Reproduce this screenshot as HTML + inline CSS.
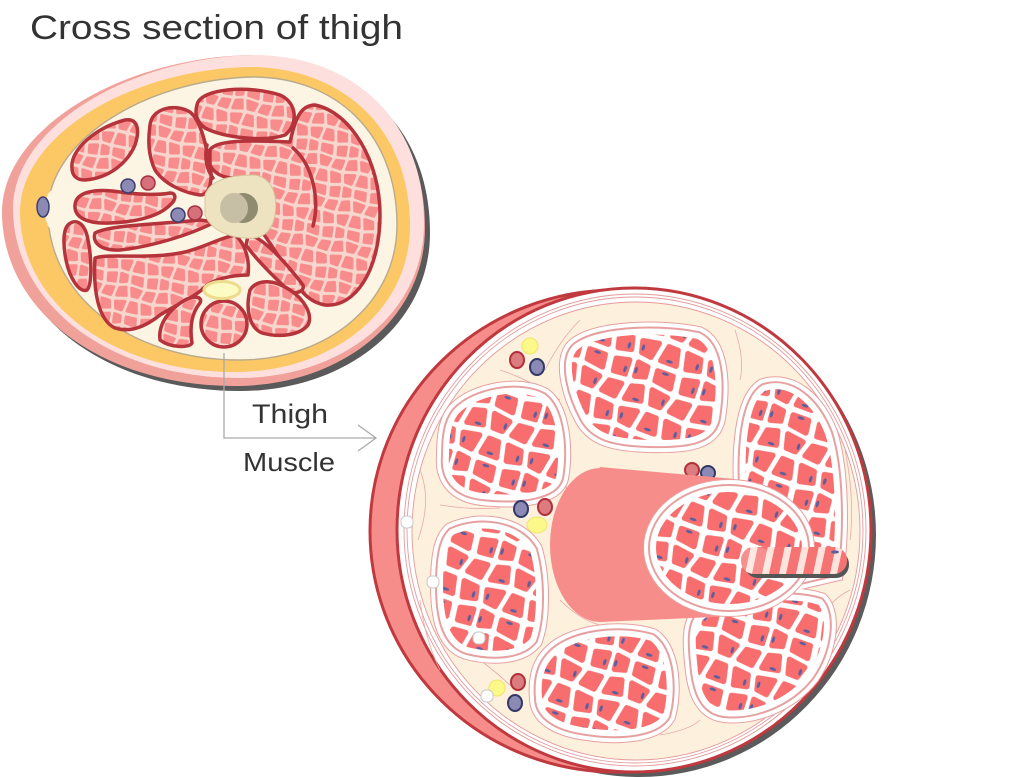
<!DOCTYPE html>
<html><head><meta charset="utf-8"><style>
html,body{margin:0;padding:0;background:#fff;}
svg{display:block;}
</style></head><body>
<svg width="1024" height="777" viewBox="0 0 1024 777" xmlns="http://www.w3.org/2000/svg">
<defs>
<g id="cells" stroke-linejoin="round">
<polygon points="2,-1 19,2 20,19 3,23" transform="translate(11 10.75) scale(.56) translate(-11 -10.75)"/>
<polygon points="19,2 46,3 48,24 20,19" transform="translate(33.25 12) scale(.56) translate(-33.25 -12)"/>
<polygon points="46,3 68,-1 69,23 48,24" transform="translate(57.75 12.25) scale(.56) translate(-57.75 -12.25)"/>
<polygon points="3,23 20,19 25,42 -2,46" transform="translate(11.5 32.5) scale(.56) translate(-11.5 -32.5)"/>
<polygon points="20,19 48,24 41,43 25,42" transform="translate(33.5 32) scale(.56) translate(-33.5 -32)"/>
<polygon points="48,24 69,23 64,46 41,43" transform="translate(55.5 34) scale(.56) translate(-55.5 -34)"/>
<polygon points="-2,46 25,42 19,68 2,65" transform="translate(11 55.25) scale(.56) translate(-11 -55.25)"/>
<polygon points="25,42 41,43 46,69 19,68" transform="translate(32.75 55.5) scale(.56) translate(-32.75 -55.5)"/>
<polygon points="41,43 64,46 68,65 46,69" transform="translate(54.75 55.75) scale(.56) translate(-54.75 -55.75)"/>
</g>
<pattern id="mL" width="66" height="66" patternUnits="userSpaceOnUse" patternTransform="rotate(10) scale(.62)">
<rect x="-2" y="-2" width="70" height="70" fill="#f7d7cd"/>
<use href="#cells" fill="#f88b8b" stroke="#f88b8b" stroke-width="9"/>
</pattern>
<pattern id="mR" width="66" height="66" patternUnits="userSpaceOnUse" patternTransform="rotate(18) scale(1.08)">
<rect x="-2" y="-2" width="70" height="70" fill="#fff"/>
<use href="#cells" fill="#f86e6e" stroke="#f86e6e" stroke-width="9"/>
<g fill="#5b5f9e">
<ellipse cx="6" cy="12" rx="1.4" ry="3.2"/>
<ellipse cx="33" cy="7" rx="3.2" ry="1.4"/>
<ellipse cx="62" cy="14" rx="1.4" ry="3.2"/>
<ellipse cx="14" cy="38" rx="3.2" ry="1.4"/>
<ellipse cx="39" cy="33" rx="1.4" ry="3.2"/>
<ellipse cx="6" cy="56" rx="1.4" ry="3.2"/>
<ellipse cx="33" cy="61" rx="3.2" ry="1.4"/>
<ellipse cx="59" cy="58" rx="1.4" ry="3.2"/>
</g>
</pattern>
<pattern id="stripe" width="17" height="40" patternUnits="userSpaceOnUse" patternTransform="skewX(-12)">
<rect width="17" height="40" fill="#f57373"/>
<rect x="0" width="7" height="40" fill="#fde3dc"/>
</pattern>
<path id="skin" d="M 2,212 C 2,130 120,58 250,55 C 350,55 425,120 425,228 C 425,320 340,386 235,386 C 100,386 2,310 2,212 Z"/>
<path id="f1" d="M 575,348 C 595,330 660,328 698,336 C 718,345 722,380 716,418 C 712,440 688,444 650,443 C 612,442 594,436 584,418 C 572,396 562,362 575,348 Z"/>
<path id="f2" d="M 456,412 C 474,392 520,384 543,397 C 561,410 564,452 559,478 C 554,496 518,500 482,496 C 456,493 444,478 446,456 C 446,436 448,422 456,412 Z"/>
<path id="f3" d="M 764,388 C 790,380 815,400 828,433 C 840,470 840,535 834,572 L 800,580 C 782,555 748,538 744,500 C 740,452 744,400 764,388 Z"/>
<path id="f4" d="M 452,532 C 478,520 518,524 533,550 C 541,578 541,618 533,640 C 520,656 490,656 467,650 C 446,643 440,618 440,586 C 440,558 443,540 452,532 Z"/>
<path id="f5" d="M 551,655 C 570,634 620,628 652,638 C 671,652 673,692 666,716 C 655,733 620,736 587,731 C 556,727 539,715 539,698 C 537,676 543,663 551,655 Z"/>
<path id="f6" d="M 697,620 C 725,598 790,592 820,602 C 832,615 828,650 810,676 C 788,704 752,716 724,713 C 702,710 696,688 694,662 C 692,642 692,628 697,620 Z"/>
<ellipse id="f7" cx="729" cy="548" rx="76" ry="59"/>
</defs>

<!-- Title -->
<text x="30" y="39" font-family="Liberation Sans, sans-serif" font-size="34" fill="#333" textLength="373" lengthAdjust="spacingAndGlyphs">Cross section of thigh</text>

<!-- LEFT THIGH -->
<g>
<use href="#skin" transform="translate(5 5)" fill="#5a5a5a"/>
<use href="#skin" fill="#f0a19a"/>
<use href="#skin" transform="matrix(0.9716 0 0 0.9758 11.06 1.33)" fill="#fde0dd"/>
<use href="#skin" transform="matrix(0.922 0 0 0.9215 18.16 16.3)" fill="#fcc865"/>
<use href="#skin" transform="matrix(0.825 0 0 0.855 46.35 29.97)" fill="#fdf5e4" stroke="#b9ab8d" stroke-width="1.7"/>
<ellipse cx="53" cy="210" rx="8" ry="20" fill="#fdf5e4"/>

<g fill="url(#mL)" stroke="#b5343c" stroke-width="3.5" stroke-linejoin="round">
<path d="M 210,150 C 215,140 250,140 290,142 C 295,120 300,105 315,105 C 350,112 380,160 380,215 C 380,270 355,308 325,305 C 308,302 300,290 290,275 C 280,258 268,240 262,232 L 270,200 C 265,185 250,178 235,178 C 225,178 215,175 210,165 Z"/>
<path d="M 197,105 C 200,88 250,85 280,95 C 298,103 298,125 285,135 C 265,142 225,138 205,128 C 195,120 195,112 197,105 Z"/>
<path d="M 72,168 C 70,150 95,128 125,120 C 138,118 140,130 135,145 C 128,162 110,178 85,180 C 76,180 72,175 72,168 Z"/>
<path d="M 150,125 C 152,108 175,103 190,112 C 200,120 205,140 210,165 C 213,180 210,195 200,195 C 185,193 165,185 155,170 C 148,155 148,140 150,125 Z"/>
<path d="M 68,225 C 75,218 85,222 88,240 C 92,260 92,285 87,290 C 80,293 70,280 66,260 C 63,245 63,230 68,225 Z"/>
<path d="M 75,205 C 76,192 95,188 120,192 C 140,195 160,195 170,193 C 177,193 176,200 170,205 C 160,215 140,222 110,223 C 88,224 74,218 75,205 Z"/>
<path d="M 95,233 C 110,225 150,225 200,220 L 215,222 C 190,235 150,247 120,250 C 100,251 92,242 95,233 Z"/>
<path d="M 95,258 C 110,253 150,260 185,252 C 205,247 220,238 235,235 C 245,243 250,260 248,275 C 230,275 212,280 205,287 C 195,297 172,307 160,315 C 145,327 130,333 115,328 C 98,320 93,290 95,258 Z"/>
<path d="M 248,236 C 258,234 280,255 303,285 C 305,292 295,295 288,290 C 272,275 255,258 246,245 Z"/>
<path d="M 250,290 C 258,278 275,280 290,290 C 305,300 313,315 308,325 C 300,335 280,338 262,333 C 250,328 245,310 250,290 Z"/>
<circle cx="224" cy="324" r="23"/>
<path d="M 160,340 C 158,325 168,310 185,300 C 195,295 203,297 200,303 C 190,315 190,330 192,343 C 190,348 170,348 160,340 Z"/>
</g>
<g fill="none" stroke="#b5343c" stroke-width="3.5" stroke-linecap="round">
<path d="M 293,148 C 313,165 320,200 313,226"/>
<path d="M 207,145 C 204,158 207,170 213,178"/>
</g>
<path d="M 205,195 C 210,180 230,175 255,175 C 272,178 278,195 275,215 C 272,232 262,240 245,238 C 225,237 210,228 205,215 Z" fill="#eee3c0" stroke="#d4c79c" stroke-width="1"/>
<ellipse cx="243" cy="208" rx="15" ry="15" fill="#8f8b71"/>
<ellipse cx="234" cy="208" rx="14" ry="15" fill="#c6bea5"/>
<ellipse cx="43" cy="207" rx="6" ry="10" fill="#8a8ab5" stroke="#3e3e6e" stroke-width="1.5"/>
<circle cx="128" cy="186" r="7" fill="#8a8ab5" stroke="#3e3e6e" stroke-width="1.5"/>
<circle cx="148" cy="183" r="7" fill="#d6707a" stroke="#a83040" stroke-width="1.5"/>
<circle cx="178" cy="215" r="7" fill="#8a8ab5" stroke="#3e3e6e" stroke-width="1.5"/>
<circle cx="195" cy="213" r="7" fill="#d6707a" stroke="#a83040" stroke-width="1.5"/>
<ellipse cx="222" cy="290" rx="18" ry="8.5" fill="#fdfbc4" stroke="#ecdc8c" stroke-width="3"/>
</g>

<!-- connector -->
<g fill="none" stroke="#aaa" stroke-width="1.3">
<path d="M 224,353 L 224,438 L 376,438"/>
<path d="M 358,425 L 376,438 L 358,451"/>
</g>
<text x="290" y="423" text-anchor="middle" font-family="Liberation Sans, sans-serif" font-size="27" fill="#333" textLength="76" lengthAdjust="spacingAndGlyphs">Thigh</text>
<text x="289" y="471" text-anchor="middle" font-family="Liberation Sans, sans-serif" font-size="26" fill="#333" textLength="92" lengthAdjust="spacingAndGlyphs">Muscle</text>

<!-- RIGHT DISC -->
<ellipse cx="639" cy="535" rx="237" ry="242" fill="#5b5b5b"/>
<ellipse cx="616" cy="531" rx="246" ry="241" fill="#f78d8a" stroke="#c0393f" stroke-width="3"/>
<ellipse cx="634" cy="530" rx="237" ry="242" fill="#fff" stroke="#c0393f" stroke-width="3"/>
<g fill="none" stroke="#e59a9a" stroke-width="0.9">
<ellipse cx="635" cy="530" rx="231" ry="236"/>
<ellipse cx="635" cy="530" rx="228" ry="233"/>
</g>
<ellipse cx="636" cy="531" rx="224" ry="229" fill="#fdf1dd" stroke="#e59a9a" stroke-width="0.9"/>
<g fill="none" stroke="#e8a8a8" stroke-width="0.8">
<path d="M 420,470 Q 432,500 418,540"/>
<path d="M 440,505 Q 470,510 500,508"/>
<path d="M 560,470 Q 575,495 555,520"/>
<path d="M 580,320 Q 560,340 545,370"/>
<path d="M 735,330 Q 745,360 740,380"/>
<path d="M 850,590 Q 830,600 820,620"/>
<path d="M 560,600 Q 580,620 600,625"/>
<path d="M 480,660 Q 500,675 515,690"/>
<path d="M 660,735 Q 690,730 700,720"/>
<path d="M 500,370 Q 530,380 560,400"/>
<path d="M 420,600 Q 425,640 440,670"/>
<path d="M 845,450 Q 855,500 850,540"/>
</g>

<g>
<g fill="none" stroke="#e7a0a0" stroke-width="20"><use href="#f1"/><use href="#f2"/><use href="#f3"/><use href="#f4"/><use href="#f5"/><use href="#f6"/></g>
<g fill="none" stroke="#fff" stroke-width="18"><use href="#f1"/><use href="#f2"/><use href="#f3"/><use href="#f4"/><use href="#f5"/><use href="#f6"/></g>
<g fill="none" stroke="#e7a0a0" stroke-width="10"><use href="#f1"/><use href="#f2"/><use href="#f3"/><use href="#f4"/><use href="#f5"/><use href="#f6"/></g>
<g fill="url(#mR)" stroke="#fff" stroke-width="6"><use href="#f1"/><use href="#f2"/><use href="#f3"/><use href="#f4"/><use href="#f5"/><use href="#f6"/></g>
</g>

<g stroke-width="2">
<circle cx="692" cy="470" r="7" fill="#dc7b80" stroke="#b32f3a"/>
<circle cx="708" cy="473" r="7" fill="#8a8ab4" stroke="#333966"/>
</g>

<!-- cylinder -->
<path d="M 600,467 L 735,479 L 735,616 L 600,622 Z" fill="#f78d8a"/>
<ellipse cx="600" cy="545" rx="50" ry="77" fill="#f78d8a"/>
<use href="#f7" fill="none" stroke="#e7a0a0" stroke-width="20"/>
<use href="#f7" fill="none" stroke="#fff" stroke-width="18"/>
<use href="#f7" fill="none" stroke="#e7a0a0" stroke-width="10"/>
<use href="#f7" fill="url(#mR)" stroke="#fff" stroke-width="6"/>

<!-- striped fiber -->
<rect x="745" y="551" width="104" height="27" rx="13" fill="#555"/>
<rect x="741" y="547" width="106" height="27" rx="13" fill="url(#stripe)"/>
<rect x="741" y="547" width="30" height="27" rx="13" fill="#fff" opacity="0.2"/>
<ellipse cx="835" cy="552" rx="4" ry="1.6" fill="#5b5f9e"/>

<g stroke-width="2">
<circle cx="530" cy="346" r="8" fill="#fdf88a" stroke="#f1e46e" stroke-width="1"/>
<ellipse cx="517" cy="360" rx="7" ry="8" fill="#dc7b80" stroke="#b32f3a"/>
<ellipse cx="537" cy="367" rx="7" ry="8" fill="#8a8ab4" stroke="#333966"/>
<ellipse cx="521" cy="509" rx="7" ry="8" fill="#8a8ab4" stroke="#333966"/>
<ellipse cx="545" cy="507" rx="7" ry="8" fill="#dc7b80" stroke="#b32f3a"/>
<ellipse cx="537" cy="525" rx="10" ry="8" fill="#fdf88a" stroke="#f1e46e" stroke-width="1"/>
<ellipse cx="497" cy="688" rx="8" ry="8" fill="#fdf88a" stroke="#f1e46e" stroke-width="1"/>
<ellipse cx="518" cy="682" rx="7" ry="8" fill="#dc7b80" stroke="#b32f3a"/>
<ellipse cx="515" cy="703" rx="7" ry="8" fill="#8a8ab4" stroke="#333966"/>
</g>
<g fill="#fff" stroke="#c8c8c8" stroke-width="1">
<rect x="401" y="516" width="12" height="12" rx="5"/>
<rect x="427" y="576" width="12" height="12" rx="5"/>
<rect x="473" y="632" width="12" height="12" rx="5"/>
<rect x="481" y="690" width="12" height="12" rx="5"/>
</g>
</svg>
</body></html>
